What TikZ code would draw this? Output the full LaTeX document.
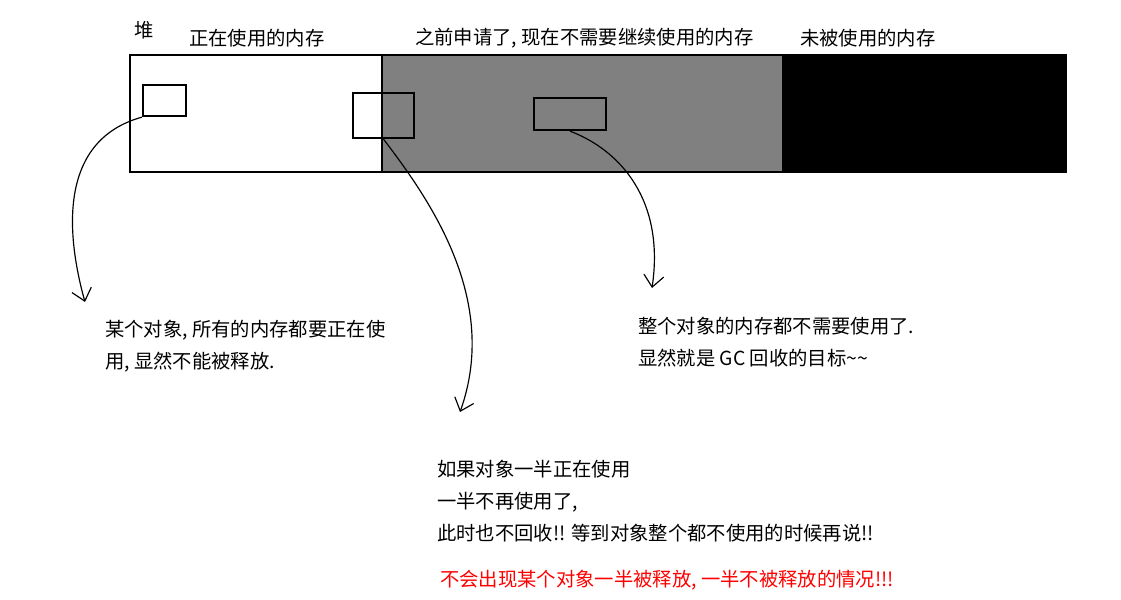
\documentclass[tikz,border=0pt]{standalone}
\usepackage{fontspec}
\newfontfamily\cjk{Noto Sans CJK SC}
\usetikzlibrary{arrows.meta,positioning}
\begin{document}
\begin{tikzpicture}[x=0.3mm,y=-0.3mm,>={Straight Barb[length=3.5mm,width=6mm]}]

    \tikzstyle{label}=[font=\cjk\fontsize{16.5}{20}\selectfont, inner sep=0pt]
    \tikzstyle{note}=[label, anchor=west, align=left]
    \tikzstyle{slot}=[draw=black, line width=2pt]
    \tikzstyle{hand}=[->, line width=1pt]

    \useasboundingbox (0,0) rectangle (1121,599);

    % Heap
    \fill[black!50] (382,55) rectangle (782,172);
    \fill[black] (782,55) rectangle (1066,172);
    \draw[slot] (130,55) rectangle (1066,172);
    \draw[line width=1.2pt] (382,55) -- (382,172);

    % Titles
    \node[note] (heap) at (134,30) {堆};
    \node[note] (used) at (189,38) {正在使用的内存};
    \node[note] (freed) at (415,38) {之前申请了, 现在不需要继续使用的内存};
    \node[note] (unused) at (800,38) {未被使用的内存};

    % Objects
    \node[slot, minimum width=43*0.3mm, minimum height=31*0.3mm] (objA) at (164.5,100.5) {};
    \node[slot, minimum width=61*0.3mm, minimum height=45*0.3mm] (objB) at (383.5,115.5) {};
    \node[slot, minimum width=72*0.3mm, minimum height=32*0.3mm] (objC) at (570,114) {};

    % Notes
    \node[note] (noteA) at (105,346) {某个对象, 所有的内存都要正在使\\[2.6mm]用, 显然不能被释放.};
    \node[note] (noteC) at (638,342) {整个对象的内存都不需要使用了.\\[2.6mm]显然就是 GC 回收的目标\textasciitilde\textasciitilde};
    \node[note] (noteB) at (437,501) {如果对象一半正在使用\\[2.6mm]一半不再使用了,\\[2.6mm]此时也不回收!! 等到对象整个都不使用的时候再说!!};
    \node[note, text=red] (warn) at (440,580) {不会出现某个对象一半被释放, 一半不被释放的情况!!!};

    % Arrows
    \coordinate (tipA) at (85,302);
    \coordinate (tipB) at (460,412);
    \coordinate (tipC) at (652,288);
    \draw[hand] (objA.south west) .. controls (60,140) and (65,230) .. (tipA);
    \draw[hand] (objB.south) .. controls (430,200) and (500,300) .. (tipB);
    \draw[hand] (objC.south) .. controls (620,150) and (665,200) .. (tipC);
\end{tikzpicture}
\end{document}
